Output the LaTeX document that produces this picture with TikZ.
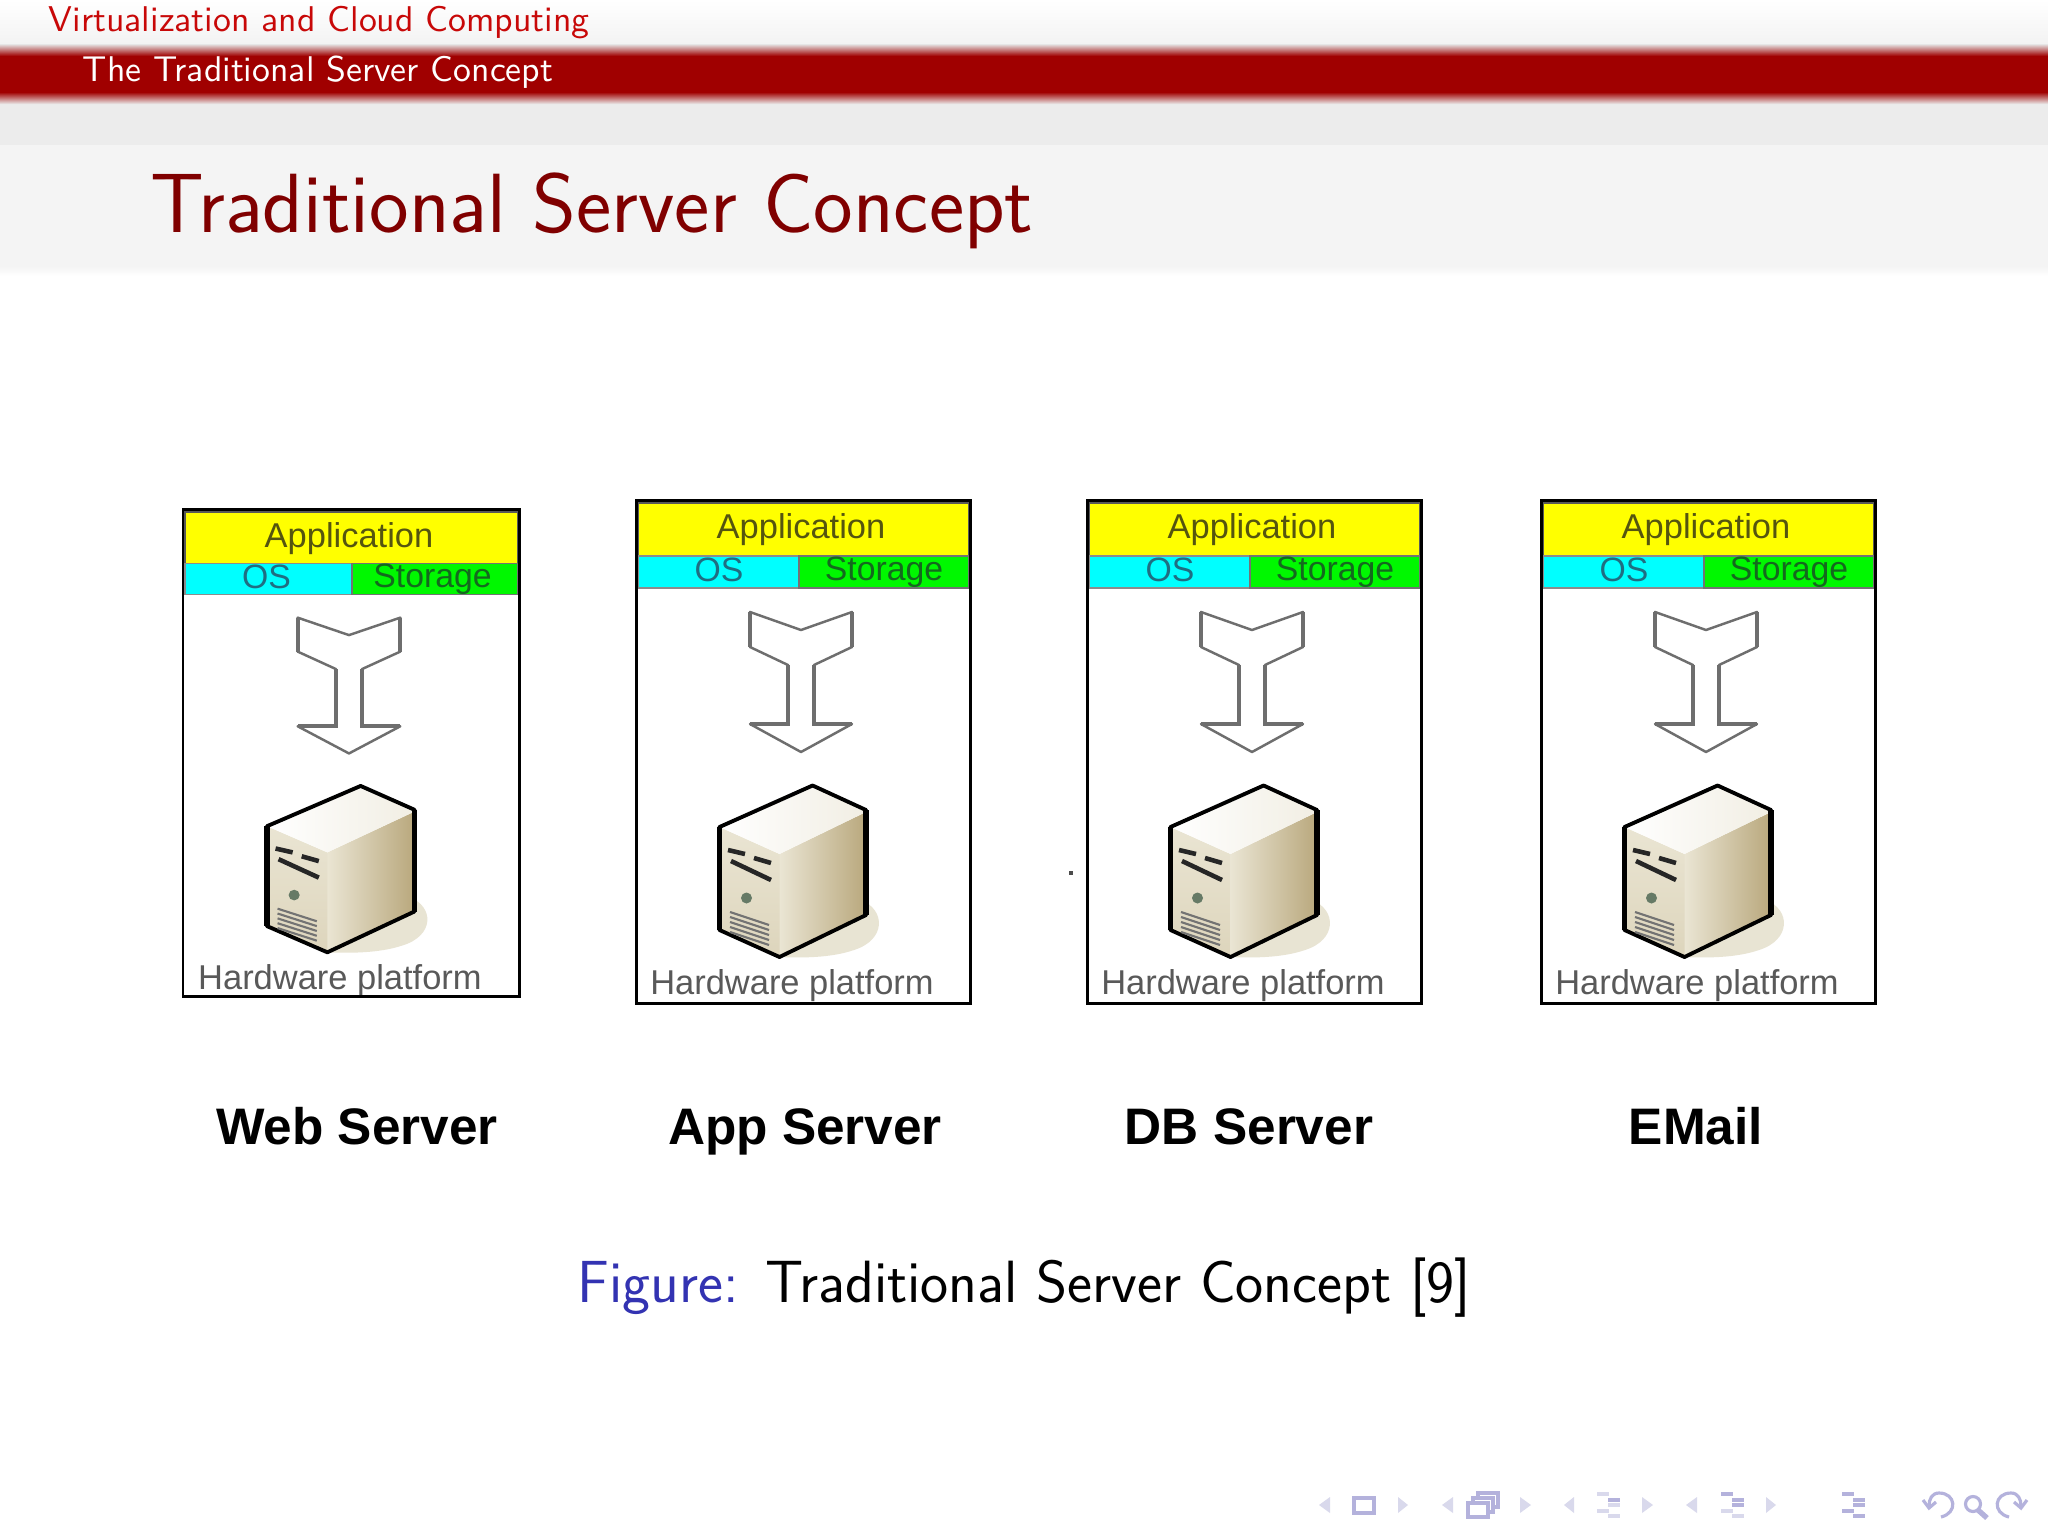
\documentclass[tikz,border=0pt]{standalone}
\usepackage{fontspec}
\newfontfamily\arialfont{Liberation Sans}
\usepackage{tikz}
\definecolor{bandred}{HTML}{A00000}
\definecolor{headred}{HTML}{C80808}
\definecolor{titlered}{HTML}{800000}
\definecolor{figblue}{HTML}{3333B2}
\definecolor{navdark}{HTML}{B4B2DC}
\definecolor{navlight}{HTML}{D9D9EC}
\definecolor{arrowgray}{HTML}{6E6E6E}
\definecolor{appyellow}{HTML}{FFFF00}
\definecolor{oscyan}{HTML}{00FFFF}
\definecolor{storegreen}{HTML}{00F800}
\definecolor{apptext}{HTML}{55550F}
\definecolor{ostext}{HTML}{1F6E82}
\definecolor{storetext}{HTML}{14691E}
\definecolor{shadowtan}{HTML}{E8E4D3}
\definecolor{topcream}{HTML}{F6F4EC}
\definecolor{caselight}{HTML}{EAE5D3}
\definecolor{casemid}{HTML}{DDD5BC}
\definecolor{casedark}{HTML}{B9A87D}
\tikzset{x=0.01cm,y=-0.01cm,
	slide/.style={anchor=base west,inner sep=0pt,font=\sffamily},
	boxtext/.style={inner sep=0pt,font=\arialfont\fontsize{9.8}{12}\selectfont},
	caption/.style={inner sep=0pt,anchor=base,font=\arialfont\bfseries\fontsize{14.6}{16}\selectfont},
	navtri/.style={fill=navlight,draw=none},
	navbar/.style={fill=navdark,draw=none},
	navsoft/.style={fill=navlight,draw=none},
	navline/.style={draw=navdark,line width=0.9pt}}

\begin{document}
\begin{tikzpicture}
\useasboundingbox (0,0) rectangle (2048,1536);
\fill[white] (0,0) rectangle (2048,1536);
% header
\shade[top color=white,bottom color=white!95!black] (0,0) rectangle (2048,46);
\fill[white!92.5!black] (0,100) rectangle (2048,145);
\fill[white!95.5!black] (0,145) rectangle (2048,268);
\shade[top color=white!95.5!black,bottom color=white] (0,266) rectangle (2048,276);
\fill[bandred] (0,56) rectangle (2048,92);
\shade[top color=white!90!black,bottom color=bandred] (0,44) rectangle (2048,56);
\shade[top color=bandred,bottom color=white!92!black] (0,92) rectangle (2048,104);
\node[slide,text=headred,font=\sffamily\fontsize{10.17}{12}\selectfont] (course) at (48,31) {Virtualization and Cloud Computing};
\node[slide,text=white,font=\sffamily\fontsize{10.16}{12}\selectfont] (section) at (82,81) {The Traditional Server Concept};
\node[slide,text=titlered,font=\sffamily\fontsize{23.9}{28}\selectfont] (title) at (150,232) {Traditional Server Concept};
% the four boxes
\foreach \id/\bx/\by/\sx/\sy/\cx/\cut/\lbl in {
	web/183/509/1.006/0.970/357/168/Web Server,
	app/636/500/1/1/805/163/App Server,
	db/1087/500/1/1/1249/163/DB Server,
	mail/1541/500/1/1/1696/163/EMail}{
\begin{scope}[shift={(\bx,\by)},xscale=\sx,yscale=\sy]
	\fill[appyellow,draw=black!65,line width=0.4pt] (2,3) rectangle (333,56);
	\fill[oscyan,draw=black!45,line width=0.4pt] (2,56) rectangle (\cut,88);
	\fill[storegreen,draw=black!55,line width=0.4pt] (\cut,56) rectangle (333,88);
	\node[boxtext,text=apptext] (\id app) at (165,30) {Application};
	\node[boxtext,text=ostext,font=\arialfont\fontsize{9.6}{12}\selectfont] (\id os) at (83,70) {OS};
	\node[boxtext,text=storetext,font=\arialfont\fontsize{9.6}{12}\selectfont] (\id store) at (248,72) {Storage};
	\node[boxtext,text=black!65] (\id hw) at (156,486) {Hardware platform};
	% arrow
	\draw[arrowgray,line width=0.7pt,line join=round,fill=white] (114,112) -- (165,130) -- (216,112) -- (216,147)
		-- (178,165) -- (178,224) -- (216,224) -- (165,252) -- (114,224) -- (152,224)
		-- (152,165) -- (114,147) -- cycle;
	\draw[arrowgray,line width=1.2pt] (114,112) -- (114,147) (216,112) -- (216,147)
		(152,165) -- (152,224) -- (114,224) (178,165) -- (178,224) -- (216,224);
	% server
	\fill[shadowtan] (225,400) .. controls (250,410) and (250,440) .. (218,450) .. controls (195,458) and (165,458) .. (143,457) -- cycle;
	\shade[left color=caselight,right color=casedark] (143.5,354) -- (230,312) -- (230,415) -- (143.5,457) -- cycle;
	\shade[top color=caselight,bottom color=casemid] (83.5,327) -- (143.5,354) -- (143.5,457) -- (83.5,430) -- cycle;
	\shade[left color=white,right color=topcream!92!casedark] (83.5,327) -- (176.6,285.5) -- (230,312) -- (143.5,354) -- cycle;
	\draw[black,line width=1.1pt,line join=round] (83.5,327) -- (176.6,285.5) -- (230,310) -- (230,415) -- (143.5,457) -- (83.5,430) -- cycle;
	\draw[black,line width=1.6pt] (83.5,327) -- (83.5,430) (230,310) -- (230,415);
	\draw[black!85,line width=1.3pt] (92,350) -- (109,354) (118,358) -- (135,363) (95,361) -- (135,380);
	\fill[black!60!green!20!gray] (110.5,398) circle (5.5);
	\foreach \gy in {0,5,10,15,20}
		\draw[black!55,line width=0.6pt] (94,412+\gy) -- (133,425+\gy);
\end{scope}
\draw[black,line width=0.85pt] (\bx,\by) rectangle ++(334*\sx,503*\sy);
\node[caption] (\id label) at (\cx,1144) {\lbl};
}
\fill[black!70] (1069,871) rectangle (1073,875);
% caption
\node[slide,text=figblue,font=\sffamily\fontsize{16.9}{18}\selectfont] (figword) at (577,1302) {Figure:};
\node[slide,font=\sffamily\fontsize{16.95}{18}\selectfont] (figtext) at (765,1302) {Traditional Server Concept [9]};
% navigation
\foreach \xa/\xb in {1319/1330,1442/1453,1564/1574,1686/1697}
	\fill[navtri] (\xa,1505) -- (\xb,1497) -- (\xb,1513) -- cycle;
\foreach \xa/\xb in {1398/1408,1520/1531,1642/1653,1766/1776}
	\fill[navtri] (\xa,1497) -- (\xb,1505) -- (\xa,1513) -- cycle;
\draw[navline] (1354,1498) rectangle (1374,1513);
\draw[navline,fill=white] (1478,1493) rectangle (1498,1507);
\draw[navline,fill=white] (1473,1498) rectangle (1493,1512);
\draw[navline,fill=white] (1468,1503) rectangle (1488,1517);
\foreach \lx/\sa/\sb/\sc/\sd/\se in {
	1608/navsoft/navbar/navsoft/navsoft/navsoft,
	1732/navbar/navbar/navbar/navsoft/navsoft,
	1853/navbar/navbar/navbar/navbar/navbar}{
	\fill[\sa] (\lx-11,1492) rectangle (\lx+1,1496);
	\fill[\sb] (\lx,1497.5) rectangle (\lx+12,1501.5);
	\fill[\sc] (\lx,1503) rectangle (\lx+12,1507);
	\fill[\sd] (\lx-11,1508.5) rectangle (\lx+1,1512.5);
	\fill[\se] (\lx,1514) rectangle (\lx+12,1518);
}
\draw[navline] (1941,1517) .. controls (1958,1513) and (1956,1493) .. (1939,1493) .. controls (1932,1493) and (1929,1499) .. (1929,1506);
\draw[navline] (1923,1500) -- (1929,1508) -- (1936,1502);
\draw[navline] (1973,1504) circle (7.5);
\draw[navline,line width=1.5pt] (1978,1510) -- (1987,1518);
\draw[navline] (2009,1517) .. controls (1992,1513) and (1994,1493) .. (2011,1493) .. controls (2018,1493) and (2021,1499) .. (2021,1506);
\draw[navline] (2027,1500) -- (2021,1508) -- (2014,1502);
\end{tikzpicture}
\end{document}
